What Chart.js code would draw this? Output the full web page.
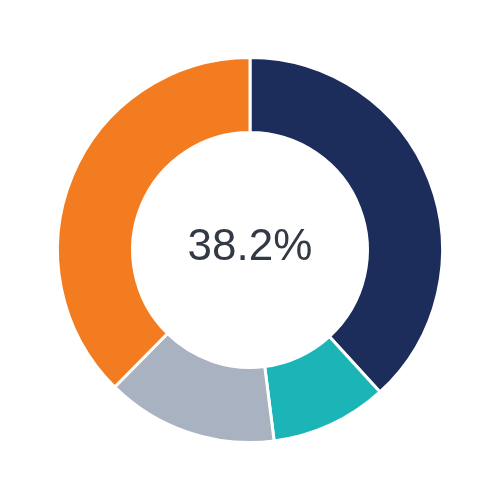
<!DOCTYPE html>
<html>
<head>
<meta charset="utf-8">
<script src="https://cdn.jsdelivr.net/npm/chart.js@4/dist/chart.umd.min.js"></script>
<style>
  html, body { margin: 0; padding: 0; background: #fff; }
  #wrap { width: 500px; height: 500px; }
</style>
</head>
<body>
<div id="wrap"><canvas id="chart"></canvas></div>
<script>
// segment shares, clockwise from 12 o'clock
const labels = ['Navy', 'Teal', 'Gray', 'Orange'];
const values = [38.2, 9.8, 14.4, 37.6];
const colors = ['#1c2c5b', '#1bb5b8', '#a8b2c1', '#f47c20'];
const centerLabel = '38.2%';

// draws the big percentage in the hole
const centerText = {
    id: 'centerText',
    afterDraw(chart) {
        const { ctx } = chart;
        const meta = chart.getDatasetMeta(0);
        if (!meta.data.length) return;
        const { x, y } = meta.data[0];
        ctx.save();
        ctx.font = '44px "Liberation Sans", Arial, sans-serif';
        ctx.fillStyle = '#333a45';
        ctx.textAlign = 'center';
        ctx.textBaseline = 'middle';
        ctx.fillText(centerLabel, x, y - 2);
        ctx.restore();
    }
};

new Chart(document.getElementById('chart').getContext('2d'), {
    type: 'doughnut',
    data: {
        labels: labels,
        datasets: [{
            data: values,
            backgroundColor: colors,
            borderColor: '#ffffff',
            borderWidth: 3
        }]
    },
    options: {
        responsive: true,
        maintainAspectRatio: false,
        animation: false,
        cutout: '61%',
        layout: { padding: 56 },
        plugins: {
            legend: { display: false },
            tooltip: { enabled: false }
        }
    },
    plugins: [centerText]
});
</script>
</body>
</html>
